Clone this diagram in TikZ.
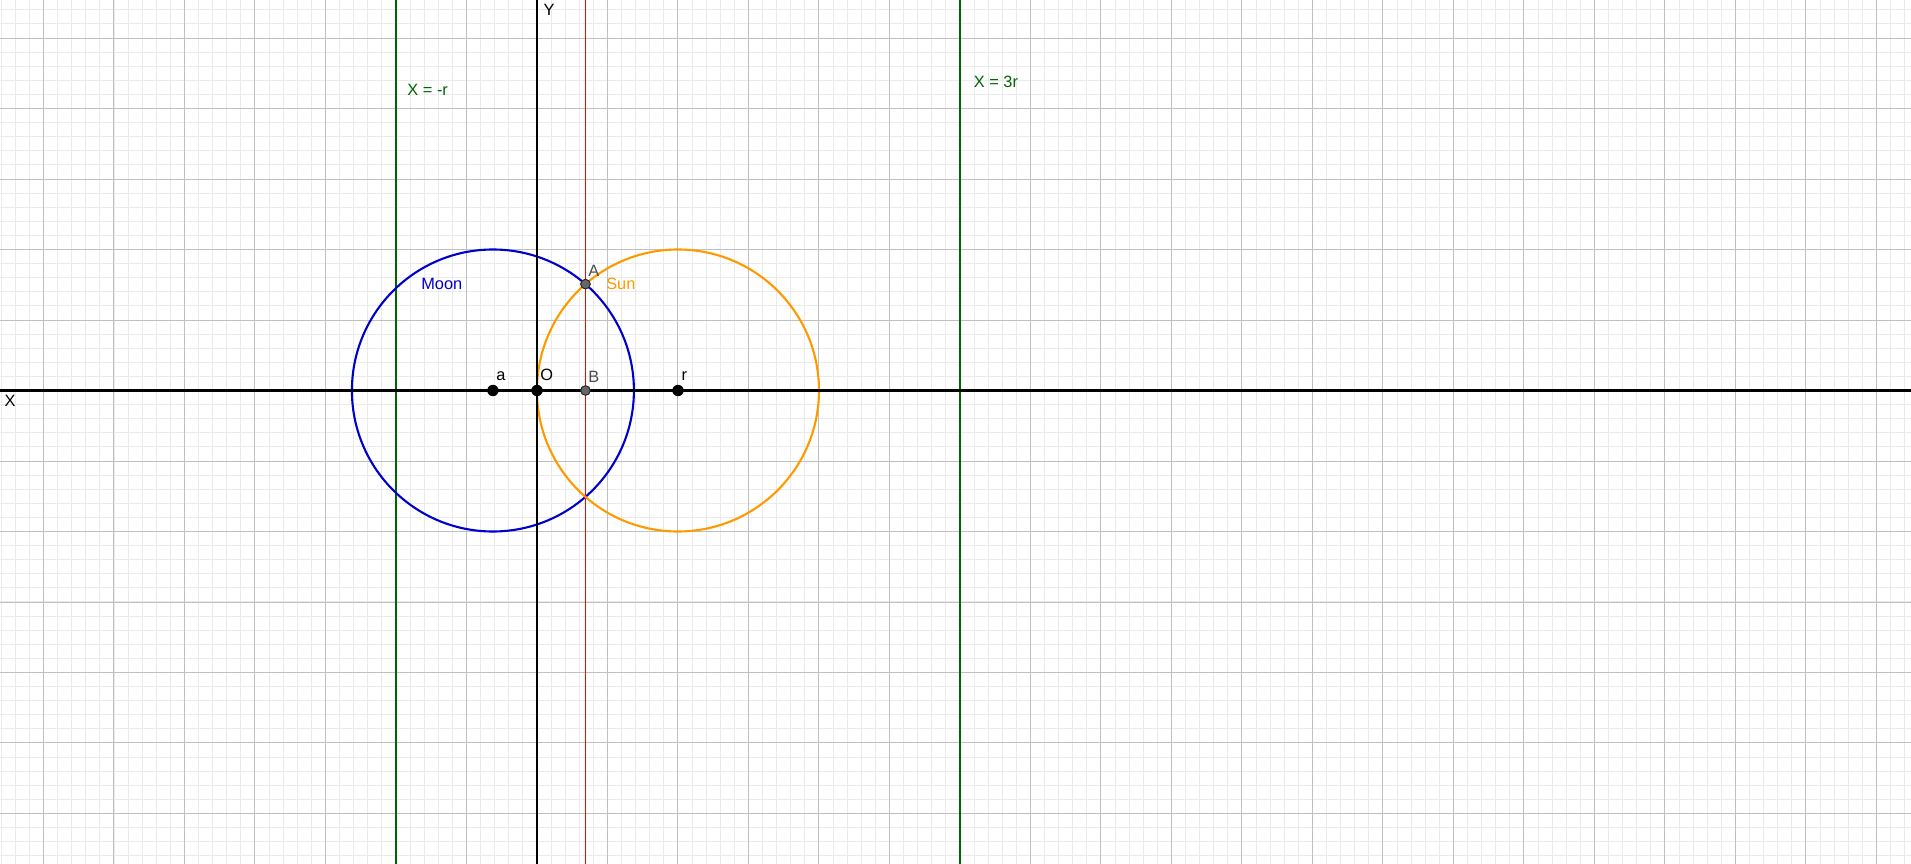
\documentclass[tikz,border=0pt]{standalone}
\usepackage{fontspec}
\setmainfont{Liberation Sans}
\definecolor{moonblue}{RGB}{0,0,204}
\definecolor{sunorange}{RGB}{255,153,0}
\definecolor{linegreen}{RGB}{0,100,0}
\definecolor{minorgrid}{RGB}{234,234,234}
\definecolor{majorgrid}{RGB}{192,192,192}

\begin{document}
\begin{tikzpicture}[font=\fontsize{6.6}{8}\selectfont,
  dot/.style={circle,fill=black,inner sep=0pt,minimum size=4.6pt},
  ptgray/.style={circle,fill=black!60,draw=black!85,line width=0.4pt,inner sep=0pt,minimum size=3.9pt}]
\useasboundingbox (-7.617,-6.716) rectangle (19.49,5.539);
\clip (-7.617,-6.716) rectangle (19.49,5.539);
\draw [minorgrid, line width=0.4pt] (-8,-7) grid[step=0.2] (20,6);
\draw [majorgrid, line width=0.4pt] (-8,-7) grid (20,6);
% the two green lines X = -r and X = 3r
\draw [linegreen, line width=0.6pt] (-2,-7) -- (-2,6);
\draw [linegreen, line width=0.6pt] (6,-7) -- (6,6);
\node [linegreen] (lminus) at (-1.55,4.26) {X = -r};
\node [linegreen] (lthree) at (6.51,4.38) {X = 3r};
% chord through A and B
\draw [red, line width=0.4pt] (0.6875,-7) -- (0.6875,6);
% Moon and Sun
\draw [moonblue, line width=0.85pt] (-0.625,0) circle (2);
\draw [sunorange, line width=0.85pt] (2,0) circle (2);
\node [moonblue] (moon) at (-1.35,1.51) {Moon};
\node [sunorange] (sun) at (1.19,1.51) {Sun};
% axes
\draw [line width=1.1pt] (-8,0) -- (20,0);
\draw [line width=1.1pt] (0,-7) -- (0,6);
\node (xlab) at (-7.475,-0.145) {X};
\node (ylab) at (0.17,5.40) {Y};
% points
\node [dot] (a) at (-0.625,0) {};
\node [dot] (O) at (0,0) {};
\node [dot] (r) at (2,0) {};
\node [ptgray] (B) at (0.6875,0) {};
\node [ptgray] (A) at (0.6875,1.5093) {};
\node (alab) at (-0.51,0.21) {a};
\node (Olab) at (0.14,0.22) {O};
\node (rlab) at (2.09,0.21) {r};
\node [black!70] (Blab) at (0.805,0.196) {B};
\node [black!70] (Alab) at (0.805,1.70) {A};

\end{tikzpicture}
\end{document}
